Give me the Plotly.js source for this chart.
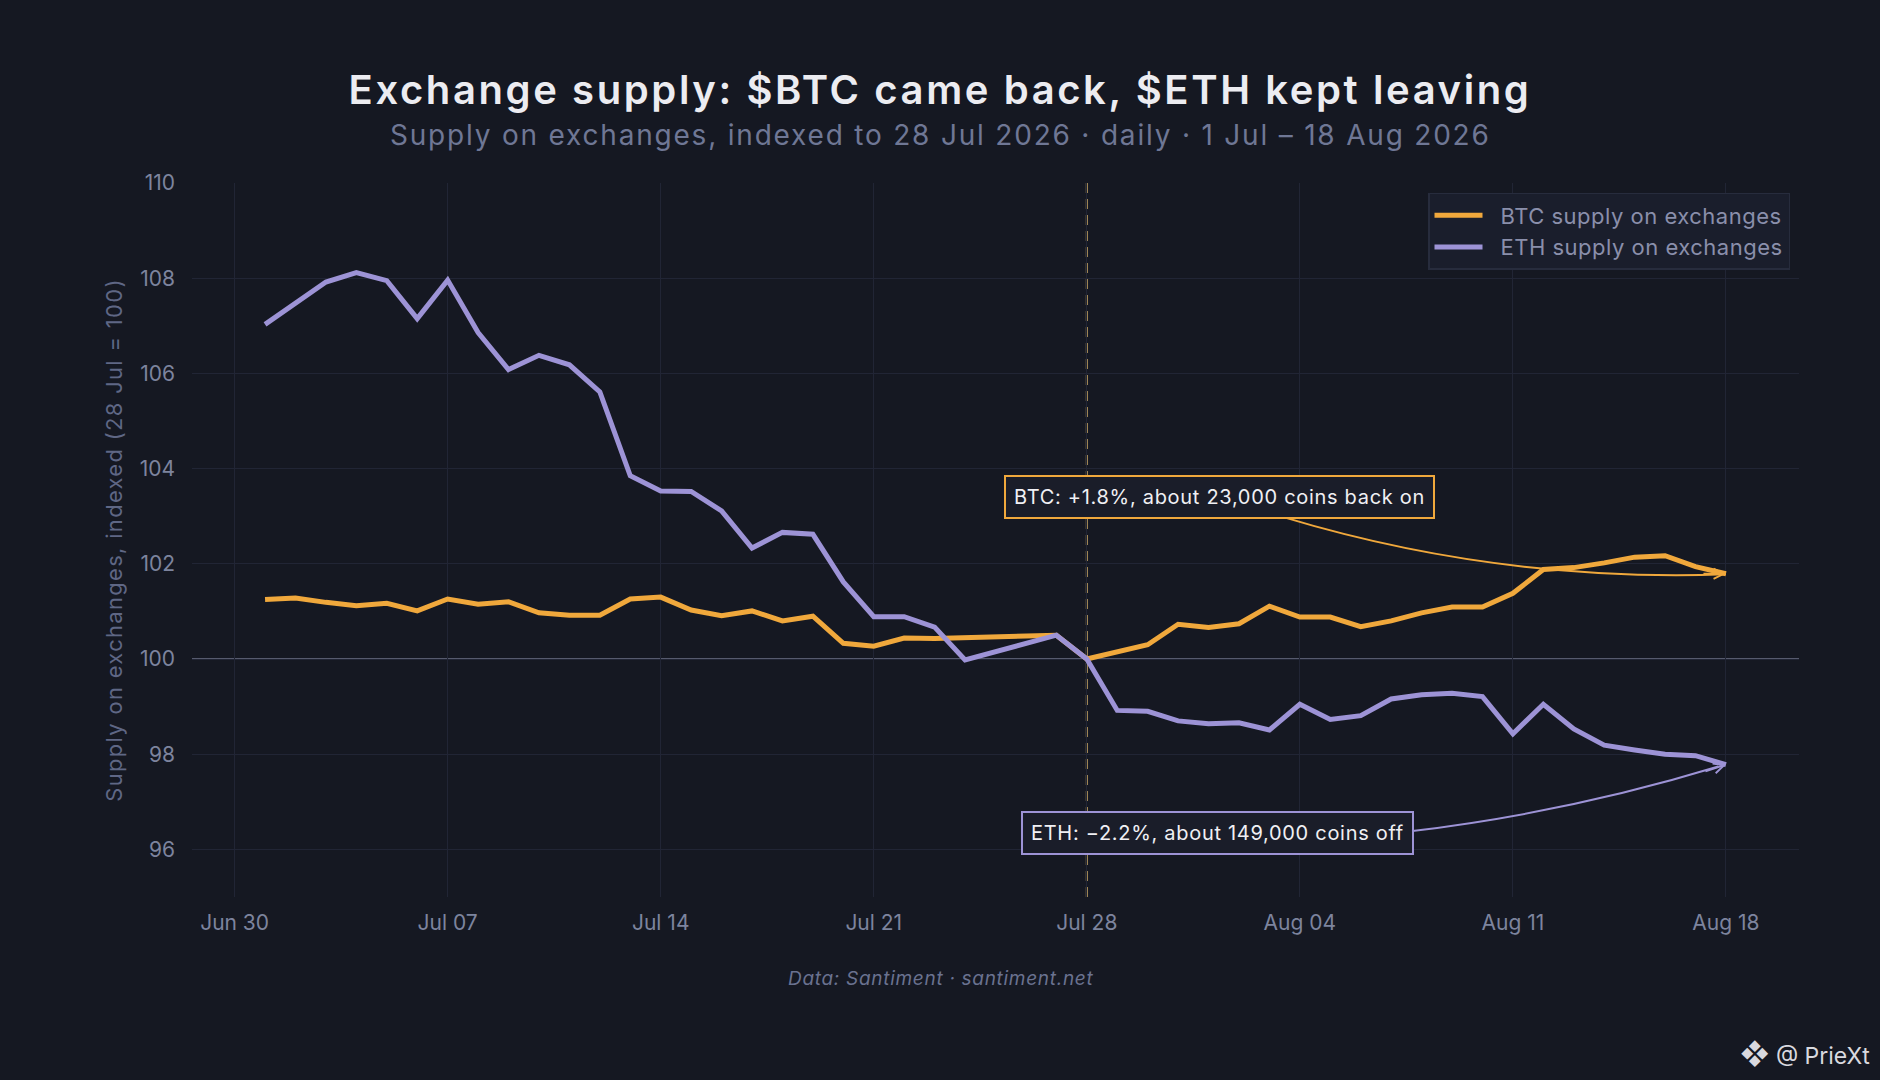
<!DOCTYPE html>
<html>
<head>
<meta charset="utf-8">
<script src="https://cdn.plot.ly/plotly-3.0.1.min.js"></script>
<style>
  html, body { margin: 0; padding: 0; background: #151822; }
  #chart { width: 1880px; height: 1080px; }
</style>
</head>
<body>
<div id="chart"></div>
<script>
// ---- data ----
const dates = [
  "2026-07-01","2026-07-02","2026-07-03","2026-07-04","2026-07-05","2026-07-06","2026-07-07",
  "2026-07-08","2026-07-09","2026-07-10","2026-07-11","2026-07-12","2026-07-13","2026-07-14",
  "2026-07-15","2026-07-16","2026-07-17","2026-07-18","2026-07-19","2026-07-20","2026-07-21",
  "2026-07-22","2026-07-23","2026-07-24","2026-07-25","2026-07-26","2026-07-27","2026-07-28",
  "2026-07-29","2026-07-30","2026-07-31","2026-08-01","2026-08-02","2026-08-03","2026-08-04",
  "2026-08-05","2026-08-06","2026-08-07","2026-08-08","2026-08-09","2026-08-10","2026-08-11",
  "2026-08-12","2026-08-13","2026-08-14","2026-08-15","2026-08-16","2026-08-17","2026-08-18"
];
const btcSupply = [
  101.25,101.28,101.19,101.12,101.17,101.01,101.26,
  101.15,101.20,100.97,100.92,100.92,101.26,101.30,
  101.03,100.91,101.01,100.80,100.90,100.33,100.27,
  100.44,100.43,100.45,100.47,100.49,100.50,100.00,
  100.15,100.30,100.73,100.66,100.74,101.11,100.88,
  100.88,100.68,100.80,100.97,101.09,101.09,101.38,
  101.88,101.92,102.02,102.14,102.17,101.94,101.79
];
const ethSupply = [
  107.03,107.49,107.92,108.12,107.95,107.15,107.96,
  106.86,106.08,106.38,106.18,105.61,103.85,103.53,
  103.52,103.11,102.33,102.66,102.62,101.62,100.89,
  100.89,100.67,99.98,100.16,100.33,100.50,100.00,
  98.92,98.90,98.70,98.64,98.66,98.51,99.05,
  98.73,98.81,99.16,99.25,99.28,99.21,98.43,
  99.05,98.53,98.19,98.09,98.00,97.97,97.78
];
const seriesNames = ["BTC supply on exchanges", "ETH supply on exchanges"];
const yTickVals = [96, 98, 100, 102, 104, 106, 108, 110];
const baseDate = "2026-07-28";
const btcNote = "BTC: +1.8%, about 23,000 coins back on";
const ethNote = "ETH: \u22122.2%, about 149,000 coins off";
const titleText = "Exchange supply: $BTC came back, $ETH kept leaving";
const subtitleText = "Supply on exchanges, indexed to 28 Jul 2026 \u00b7 daily \u00b7 1 Jul \u2013 18 Aug 2026";
const sourceText = "Data: Santiment \u00b7 santiment.net";
const yTitle = "Supply on exchanges, indexed (28 Jul = 100)";

// ---- styles ----
const BG = "#151822";
const BTC_C = "#f0a83c";
const ETH_C = "#9d93d6";
const FONT = "Inter, 'Noto Sans', sans-serif";
const GRID = "#212535";
const sp = (t, px) => '<span style="letter-spacing:' + px + 'px">' + t + '</span>';
const legendName = t => "\u2002\u200a" + sp(t, 0.5);

const traces = [
  { x: dates, y: btcSupply, name: legendName(seriesNames[0]), type: "scatter", mode: "lines",
    line: { color: BTC_C, width: 5 }, hoverinfo: "skip" },
  { x: dates, y: ethSupply, name: legendName(seriesNames[1]), type: "scatter", mode: "lines",
    line: { color: ETH_C, width: 5 }, hoverinfo: "skip" }
];

const last = dates.length - 1;

const layout = {
  width: 1880, height: 1080,
  paper_bgcolor: BG, plot_bgcolor: BG,
  margin: { l: 192, r: 81, t: 183, b: 183 },
  font: { family: FONT, color: "#7d849e" },
  showlegend: true,
  hovermode: false,
  title: {
    text: sp(titleText, 2.6),
    font: { family: FONT, size: 40, color: "#ececf1", weight: 600 },
    x: 0.5, xref: "container", xanchor: "center",
    y: 1 - 90 / 1080, yref: "container", yanchor: "middle"
  },
  xaxis: {
    type: "date",
    range: ["2026-06-28 14:24", "2026-08-20 09:36"],
    tick0: "2026-06-30", dtick: 7 * 86400000,
    tickformat: "%b %d",
    showgrid: true, gridcolor: GRID, gridwidth: 1,
    zeroline: false, showline: false,
    ticks: "", ticklabelstandoff: 11,
    tickfont: { family: FONT, size: 21, color: "#7d849e" }
  },
  yaxis: {
    range: [95, 110],
    tickvals: yTickVals,
    showgrid: true, gridcolor: GRID, gridwidth: 1,
    zeroline: false, showline: false,
    ticks: "", ticklabelstandoff: 16,
    tickfont: { family: FONT, size: 21, color: "#7d849e" },
    title: { text: sp(yTitle, 1.3), standoff: 10,
             font: { family: FONT, size: 22, color: "#5f6785" } }
  },
  legend: {
    x: 0.9944, xanchor: "right", y: 0.986, yanchor: "top",
    bgcolor: "#1a1e2c", bordercolor: "#272c3d", borderwidth: 1.5,
    font: { family: FONT, size: 22, color: "#8a8fab" },
    itemwidth: 48, tracegroupgap: 6
  },
  shapes: [
    { type: "line", xref: "paper", x0: 0, x1: 1, yref: "y", y0: 100, y1: 100,
      line: { color: "#6c7189", width: 1.6 }, layer: "below" },
    { type: "line", xref: "x", x0: baseDate, x1: baseDate, yref: "paper", y0: 0, y1: 1,
      line: { color: "#bf9f60", width: 2, dash: "10px,6px" }, layer: "below" },
    { type: "path", xref: "x", yref: "y",
      path: "M 2026-08-03_11:03,102.98 Q 2026-08-10_13:12,101.61 " + dates[last] + ",101.78",
      line: { color: BTC_C, width: 2 } },
    { type: "path", xref: "x", yref: "y",
      path: "M 2026-08-07_15:07,96.38 Q 2026-08-12_20:10,96.78 2026-08-17_18:00,97.74",
      line: { color: ETH_C, width: 2 } }
  ],
  annotations: [
    { xref: "paper", yref: "paper", x: 0.4655, y: 1.0679, xanchor: "center", yanchor: "middle",
      text: sp(subtitleText, 1.8), showarrow: false,
      font: { family: FONT, size: 28, color: "#6f7795" } },
    { xref: "paper", yref: "paper", x: 0.4655, y: -0.1148, xanchor: "center", yanchor: "middle",
      text: "<i>" + sp(sourceText, 0.7) + "</i>", showarrow: false,
      font: { family: FONT, size: 19, color: "#6a7290" } },
    { xref: "paper", yref: "paper", x: 1.0454, y: -0.2197, xanchor: "right", yanchor: "middle",
      text: "<span style=\"font-size:28px\">\u2756</span> @ PrieXt", showarrow: false,
      font: { family: FONT, size: 23, color: "#d9d9df" } },
    { xref: "x", yref: "y", x: "2026-08-01 08:40", y: 103.40, xanchor: "center", yanchor: "middle",
      text: sp(btcNote, 0.7), showarrow: false,
      font: { family: FONT, size: 20, color: "#f0f0f4" },
      bgcolor: "#1a1d29", bordercolor: BTC_C, borderwidth: 2, borderpad: 8 },
    { xref: "x", yref: "y", x: "2026-08-01 07:12", y: 96.34, xanchor: "center", yanchor: "middle",
      text: sp(ethNote, 0.7), showarrow: false,
      font: { family: FONT, size: 20, color: "#f0f0f4" },
      bgcolor: "#1a1d29", bordercolor: ETH_C, borderwidth: 2, borderpad: 8 },
    { xref: "x", yref: "y", x: dates[last], y: btcSupply[last], text: "",
      showarrow: true, ax: -24, ay: 0, arrowhead: 5, arrowsize: 1, arrowwidth: 2,
      arrowcolor: BTC_C, standoff: 0 },
    { xref: "x", yref: "y", x: dates[last], y: ethSupply[last], text: "",
      showarrow: true, ax: -22, ay: 7, arrowhead: 5, arrowsize: 1, arrowwidth: 2,
      arrowcolor: ETH_C, standoff: 0 }
  ]
};

Plotly.newPlot("chart", traces, layout, { displayModeBar: false, staticPlot: true });
</script>
</body>
</html>
